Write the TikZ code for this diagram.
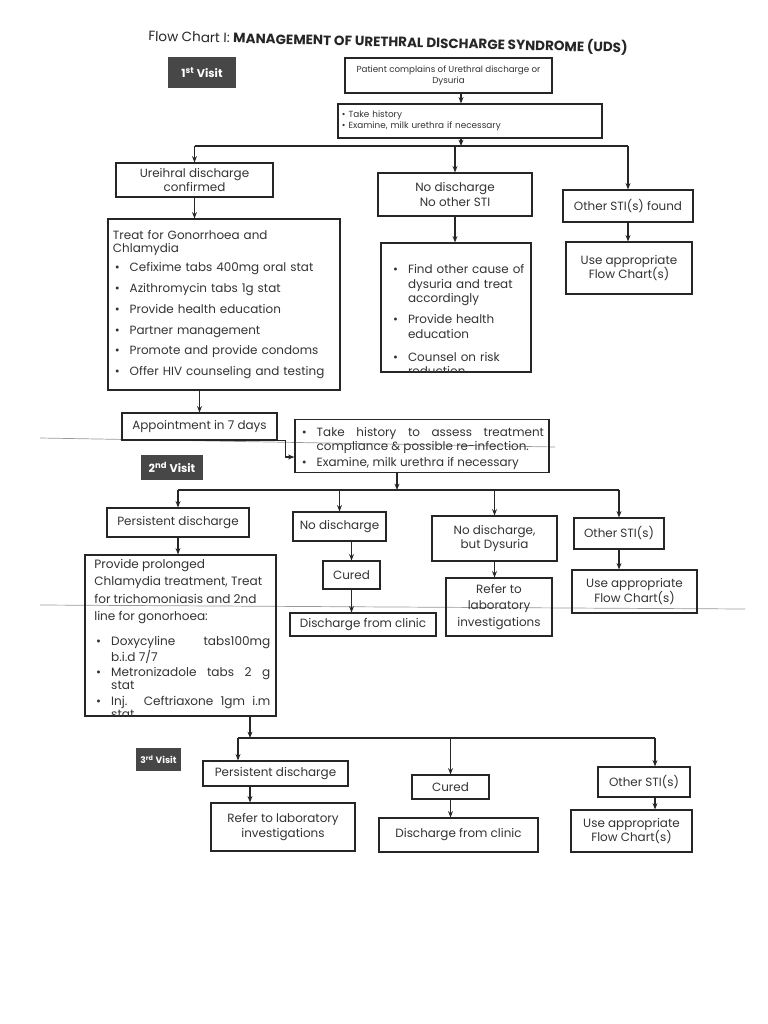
\documentclass[tikz,border=0pt]{standalone}
\usepackage{fontspec}
\setmainfont{Poppins}
\usetikzlibrary{arrows.meta}
\hyphenpenalty=10000
\exhyphenpenalty=10000

% viñeta con sangría francesa
\newcommand{\bul}[1][0pt]{\par\vspace{#1}\noindent\hangindent=1.4em\hangafter=1\makebox[1.4em][l]{\hspace{0.15em}\textbullet}}

\tikzset{
  box/.style={draw=black!85, line width=0.8pt, inner sep=2pt, align=center,
    font=\fontsize{8.5}{10.5}\selectfont, text=black!80},
  sz/.style 2 args={minimum width=#1, minimum height=#2},
  visit/.style={fill=black!72, text=white, inner sep=0pt,
    font=\bfseries\fontsize{8}{9}\selectfont},
  btext/.style={anchor=north west, inner sep=0pt, text=black!80,
    font=\fontsize{8.5}{10.3}\selectfont},
  arr/.style={line width=0.8pt, draw=black!85, -{Stealth[length=4.5pt,width=3.5pt]}},
  link/.style={line width=0.8pt, draw=black!85},
  scanline/.style={draw=black!40, line width=0.5pt}
}

\begin{document}
\begin{tikzpicture}[x=0.025cm, y=-0.025cm]
    \useasboundingbox (0,0) rectangle (768,1024);
    \fill[white] (0,0) rectangle (768,1024);

    % Titulo
    \node[font=\fontsize{9.6}{11}\selectfont, text=black!85, rotate=-1.4] (title) at (388,42)
      {Flow Chart I: \textbf{MANAGEMENT OF URETHRAL DISCHARGE SYNDROME (UDS)}};

    % Lineas del escaneo
    \draw[scanline] (40,438) -- (555,447);
    \draw[scanline] (40,605) -- (745,609);

    % 1a visita
    \node[visit, sz={1.7cm}{0.775cm}] (v1) at (202,72.5) {1\textsuperscript{st} Visit};
    \node[box, sz={5.175cm}{0.875cm}, font=\fontsize{6.2}{8}\selectfont] (P) at (448.5,75.5)
      {Patient complains of Urethral discharge or\\Dysuria};
    \node[box, sz={6.6cm}{0.85cm}, text width=6.4cm, align=left,
      font=\fontsize{6.3}{8}\selectfont] (H) at (470,121)
      {\textbullet\ Take history\\\textbullet\ Examine, milk urethra if necessary};

    \node[box, sz={3.925cm}{0.85cm}, font=\fontsize{8.5}{10}\selectfont] (U) at (194.5,180)
      {Ureihral discharge\\confirmed};
    \node[box, sz={5.8cm}{4.275cm}, text width=5.55cm, align=left,
      font=\fontsize{8.5}{9.5}\selectfont] (T) at (224,304.5)
      {Treat for Gonorrhoea and\\Chlamydia
       \bul[4pt]Cefixime tabs 400mg oral stat
       \bul[5.3pt]Azithromycin tabs 1g stat
       \bul[5.3pt]Provide health education
       \bul[5.3pt]Partner management
       \bul[5.3pt]Promote and provide condoms
       \bul[5.3pt]Offer HIV counseling and testing\par};

    \node[box, sz={3.85cm}{1.075cm}] (N) at (455,194.5) {No discharge\\No other STI};
    \node[box, sz={3.75cm}{3.225cm}] (F) at (456,307.5) {};
    \begin{scope}
      \clip (F.south west) rectangle (F.north east);
      \node[btext, text width=3.5cm, align=left] (Ft) at (391,259)
        {\bul Find other cause of\linebreak dysuria and treat\linebreak accordingly
         \bul[4.7pt]Provide health\linebreak education
         \bul[6pt]Counsel on risk\linebreak reduction\par};
    \end{scope}

    \node[box, sz={3.25cm}{0.8cm}] (O) at (628,206) {Other STI(s) found};
    \node[box, sz={3.15cm}{1.3cm}] (UA) at (629,268) {Use appropriate\\Flow Chart(s)};

    \node[box, sz={3.875cm}{0.675cm}] (A) at (199.5,426.5) {Appointment in 7 days};
    \node[box, sz={6.35cm}{1.3cm}, text width=6.1cm, align=justify,
      font=\fontsize{8.5}{10}\selectfont] (TH) at (422,446)
      {\bul Take history to assess treatment\linebreak compliance \& possible re-infection.
       \bul[1pt]Examine, milk urethra if necessary\par};

    % 2a visita
    \node[visit, sz={1.55cm}{0.625cm}] (v2) at (172,467.5) {2\textsuperscript{nd} Visit};
    \node[box, sz={3.55cm}{0.725cm}] (PD) at (178,522.5) {Persistent discharge};
    \node[box, sz={4.775cm}{4.025cm}] (PP) at (180.5,635.5) {};
    \begin{scope}
      \clip (PP.south west) rectangle (PP.north east);
      \node[btext, text width=4.4cm, align=justify,
        font=\fontsize{8.6}{12.4}\selectfont] (PPt) at (94,559)
        {Provide prolonged\\Chlamydia treatment, Treat\\for trichomoniasis and 2nd\\line for gonorhoea:\par
         \fontsize{8.6}{9.3}\selectfont
         \bul[8pt]Doxycyline tabs100mg\linebreak b.i.d 7/7
         \bul[1.3pt]Metronizadole tabs 2 g\linebreak stat
         \bul[2pt]Inj. Ceftriaxone 1gm i.m\linebreak stat\par};
    \end{scope}

    \node[box, sz={2.325cm}{0.725cm}] (ND) at (339.5,526.5) {No discharge};
    \node[box, sz={1.425cm}{0.7cm}] (C) at (351.5,575) {Cured};
    \node[box, sz={3.65cm}{0.575cm}] (DC) at (363,624.5) {Discharge from clinic};

    \node[box, sz={3.125cm}{1.125cm}] (NDD) at (494.5,538.5) {No discharge,\\but Dysuria};
    \node[box, sz={2.65cm}{1.45cm}, font=\fontsize{8.5}{12}\selectfont] (RL) at (499,607)
      {Refer to\\laboratory\\investigations};

    \node[box, sz={2.25cm}{0.775cm}] (OS) at (619,533.5) {Other STI(s)};
    \node[box, sz={3.125cm}{1.075cm}] (UA2) at (634.5,591.5) {Use appropriate\\Flow Chart(s)};

    % 3a visita
    \node[visit, sz={1.125cm}{0.575cm}, font=\bfseries\fontsize{6.5}{8}\selectfont] (v3) at (158.5,759.5)
      {3\textsuperscript{rd} Visit};
    \node[box, sz={3.625cm}{0.625cm}] (PD3) at (275.5,773.5) {Persistent discharge};
    \node[box, sz={3.6cm}{1.2cm}] (RL3) at (283,827) {Refer to laboratory\\investigations};
    \node[box, sz={1.925cm}{0.6cm}] (C3) at (450.5,787) {Cured};
    \node[box, sz={3.975cm}{0.85cm}] (DC3) at (458.5,835) {Discharge from clinic};
    \node[box, sz={2.3cm}{0.75cm}] (OS3) at (644,782) {Other STI(s)};
    \node[box, sz={3.025cm}{1.05cm}] (UA3) at (631.5,831) {Use appropriate\\Flow Chart(s)};

    % Conectores 1a visita
    \coordinate (k1) at (461,146);
    \draw[arr] (P.south -| k1) -- (H.north -| k1);
    \draw[arr] (H.south -| k1) -- (k1);
    \draw[link] (U.north |- k1) -- (O.north |- k1);
    \foreach \n in {U,N,O} \draw[arr] (\n.north |- k1) -- (\n.north);
    \draw[arr] (U.south) -- (U.south |- T.north);
    \draw[arr] (N.south) -- (N.south |- F.north);
    \draw[arr] (O.south) -- (O.south |- UA.north);
    \draw[arr] (A.north |- T.south) -- (A.north);
    \draw[arr] (A.south east) -- ++(8,0) |- ([yshift=-0.275cm]TH.west);

    % Conectores 2a visita
    \coordinate (k2) at (397,490);
    \draw[arr] (TH.south -| k2) -- (k2);
    \draw[link] (PD.north |- k2) -- (OS.north |- k2);
    \foreach \n in {PD,ND,NDD,OS} \draw[arr] (\n.north |- k2) -- (\n.north);
    \draw[arr] (PD.south) -- (PD.south |- PP.north);
    \draw[arr] (C.north |- ND.south) -- (C.north);
    \draw[arr] (C.south) -- (C.south |- DC.north);
    \draw[arr] (NDD.south) -- (NDD.south |- RL.north);
    \draw[arr] (OS.south) -- (OS.south |- UA2.north);

    % Conectores 3a visita
    \coordinate (k3) at (250,738);
    \coordinate (l3) at (238,738);
    \coordinate (r3) at (655,738);
    \draw[arr] (PP.south -| k3) -- (k3);
    \draw[link] (l3) -- (r3);
    \draw[arr] (l3) -- (l3 |- PD3.north);
    \draw[arr] (C3.north |- k3) -- (C3.north);
    \draw[arr] (r3) -- (r3 |- OS3.north);
    \draw[arr] (PD3.south -| k3) -- (RL3.north -| k3);
    \draw[arr] (C3.south) -- (C3.south |- DC3.north);
    \draw[arr] (OS3.south -| r3) -- (UA3.north -| r3);

\end{tikzpicture}
\end{document}
